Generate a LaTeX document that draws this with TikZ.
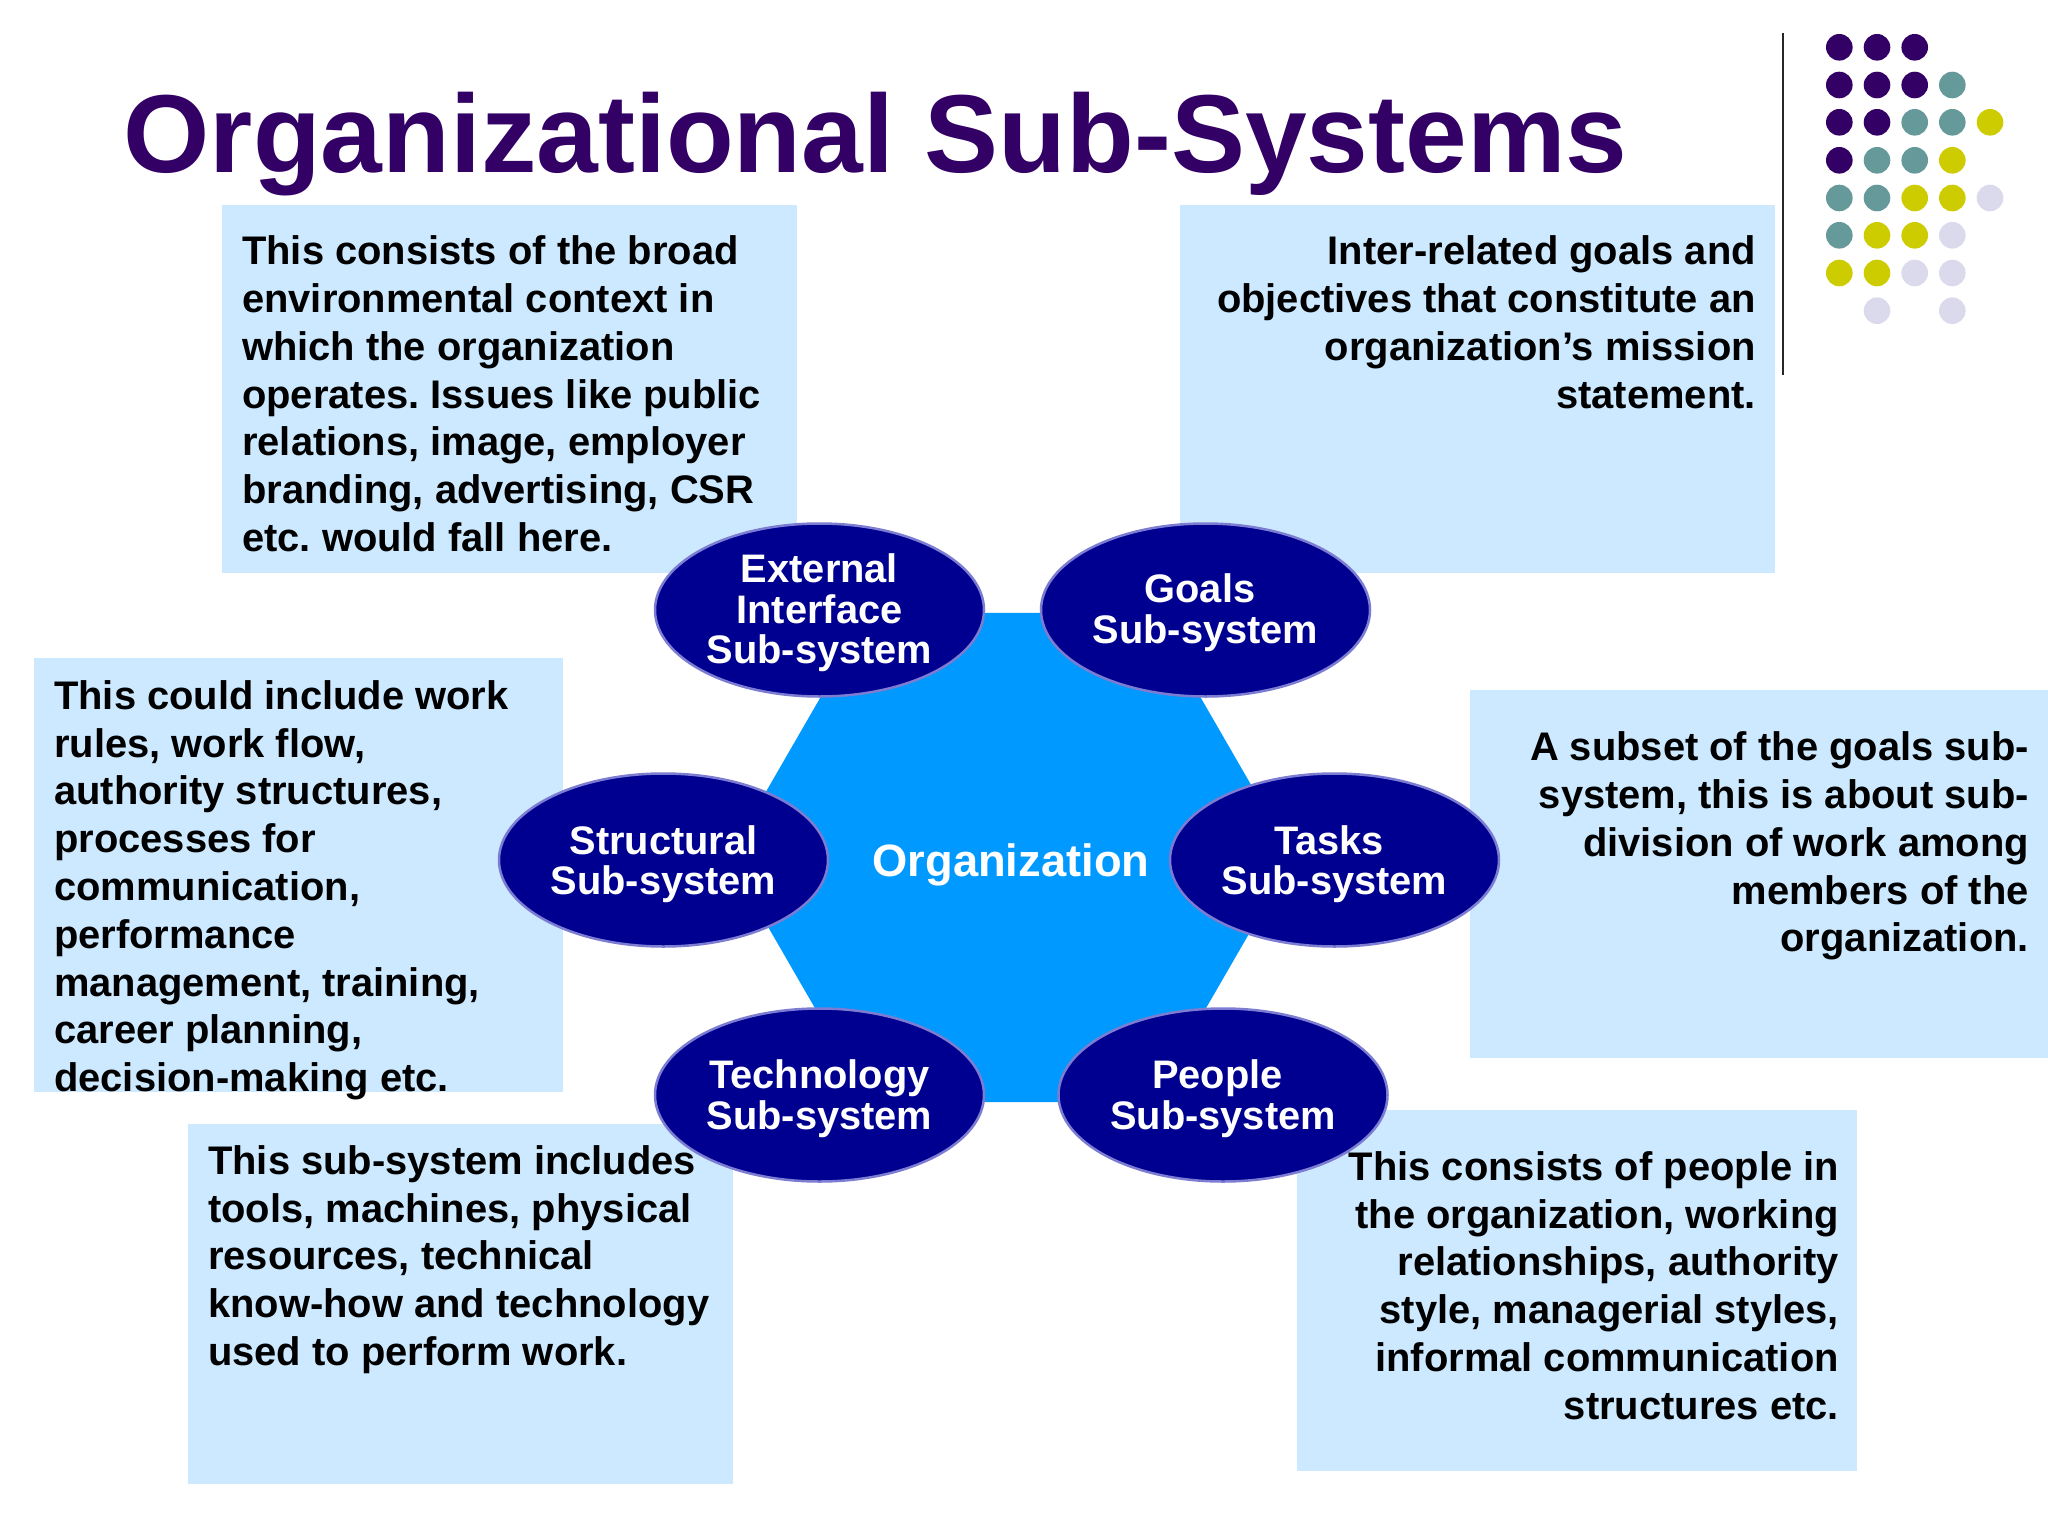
\documentclass[tikz,border=0pt]{standalone}
\usepackage{fontspec}
\setmainfont{Liberation Sans}
\frenchspacing
\usetikzlibrary{shapes.geometric}
\definecolor{titlecol}{HTML}{330066}
\definecolor{boxcol}{HTML}{CCE9FF}
\definecolor{hexcol}{HTML}{0099FF}
\definecolor{ellcol}{HTML}{000090}
\definecolor{ellline}{HTML}{7C7CD2}
\definecolor{dotA}{HTML}{330066}
\definecolor{dotB}{HTML}{669999}
\definecolor{dotC}{HTML}{CCCC00}
\definecolor{dotD}{HTML}{DADAEC}
\newcommand{\firstline}{\rule{0pt}{30pt}}
\newcommand{\elltop}[1]{\rule{0pt}{#1pt}}
\tikzset{
  x=1pt,y=-1pt,
  infobox/.style={rectangle,fill=boxcol,draw=none,inner sep=0pt},
  infotext/.style={inner sep=0pt,font=\bfseries\fontsize{39.9}{47.8}\selectfont,text=black},
  infoL/.style={infotext,anchor=north west,align=left},
  infoR/.style={infotext,anchor=north east,align=right},
  subsys/.style={ellipse,fill=ellcol,draw=ellline,line width=2.5pt,inner sep=-40pt,
    minimum width=329pt,minimum height=173pt,text=white,align=center,
    font=\bfseries\fontsize{39.8}{40.5}\selectfont},
  dotnode/.style={circle,inner sep=0pt,minimum size=26.6pt,draw=none},
}
\newcommand{\dotrow}[3]{\foreach \cx/\cc in {#2}{\node[dotnode,fill=\cc] (dot-#1-\cx) at (\cx,#3) {};}}
\begin{document}
\begin{tikzpicture}
\useasboundingbox (0,0) rectangle (2048,1536);
\fill[white] (0,0) rectangle (2048,1536);
% boxes
\node[infobox,minimum width=575pt,minimum height=368pt] (b1) at (509.5,389) {};
\node[infobox,minimum width=595pt,minimum height=368pt] (b2) at (1477.5,389) {};
\node[infobox,minimum width=529pt,minimum height=434pt] (b3) at (298.5,875) {};
\node[infobox,minimum width=578pt,minimum height=368pt] (b4) at (1759,874) {};
\node[infobox,minimum width=545pt,minimum height=360pt] (b5) at (460.5,1304) {};
\node[infobox,minimum width=560pt,minimum height=361pt] (b6) at (1577,1290.5) {};
% hexagon
\node[regular polygon,regular polygon sides=6,fill=hexcol,draw=none,inner sep=0pt,minimum size=565pt] (hex) at (1010.5,857.5) {};
\node[anchor=base,inner sep=0pt,text=white,font=\bfseries\fontsize{45.3}{48}\selectfont] (org) at (1011,876.6) {Organization};
% ellipses
\node[subsys] (ext) at (819.5,610) {\elltop{35}External\\Interface\\Sub-system};
\node[subsys] (goals) at (1205.5,610) {\elltop{34}Goals\kern11pt\\Sub-system};
\node[subsys] (str) at (663.5,860) {\elltop{37}Structural\\Sub-system};
\node[subsys] (tasks) at (1334.5,860) {\elltop{37}Tasks\kern11pt\\Sub-system};
\node[subsys] (tech) at (819.5,1095) {\elltop{36}Technology\\Sub-system};
\node[subsys] (people) at (1223,1095) {\elltop{36}People\kern11pt\\Sub-system};
% box text
\node[infoL] (t1) at (242,234.5) {\firstline This consists of the broad\\environmental context in\\which the organization\\operates. Issues like public\\relations, image, employer\\branding, advertising, CSR\\etc. would fall here.};
\node[infoR] (t2) at (1756,234.5) {\firstline Inter-related goals and\\objectives that constitute an\\organization’s mission\\statement.};
\node[infoL] (t3) at (54,679) {\firstline This could include work\\rules, work flow,\\authority structures,\\processes for\\communication,\\performance\\management, training,\\career planning,\\decision-making etc.};
\node[infoR] (t4) at (2029,730.5) {\firstline A subset of the goals sub-\\system, this is about sub-\\division of work among\\members of the\\organization.};
\node[infoL] (t5) at (208,1144) {\firstline This sub-system includes\\tools, machines, physical\\resources, technical\\know-how and technology\\used to perform work.};
\node[infoR] (t6) at (1839,1150) {\firstline This consists of people in\\the organization, working\\relationships, authority\\style, managerial styles,\\informal communication\\structures etc.};
% title
\node[anchor=base west,inner sep=0pt,text=titlecol,font=\bfseries\fontsize{110.9}{120}\selectfont] (title) at (123.5,172) {Organizational Sub-Systems};
% rule
\coordinate (ruletop) at (1783.3,33);
\coordinate (rulebot) at (1783.3,375);
\draw[line width=2.2pt,draw=black!85] (ruletop) -- (rulebot);
% dots
\dotrow{1}{1839.3/dotA,1877/dotA,1914.7/dotA}{47.3}
\dotrow{2}{1839.3/dotA,1877/dotA,1914.7/dotA,1952.3/dotB}{85}
\dotrow{3}{1839.3/dotA,1877/dotA,1914.7/dotB,1952.3/dotB,1990/dotC}{122.3}
\dotrow{4}{1839.3/dotA,1877/dotB,1914.7/dotB,1952.3/dotC}{160.3}
\dotrow{5}{1839.3/dotB,1877/dotB,1914.7/dotC,1952.3/dotC,1990/dotD}{198}
\dotrow{6}{1839.3/dotB,1877/dotC,1914.7/dotC,1952.3/dotD}{235.3}
\dotrow{7}{1839.3/dotC,1877/dotC,1914.7/dotD,1952.3/dotD}{273}
\dotrow{8}{1877/dotD,1952.3/dotD}{310.7}
\end{tikzpicture}
\end{document}
